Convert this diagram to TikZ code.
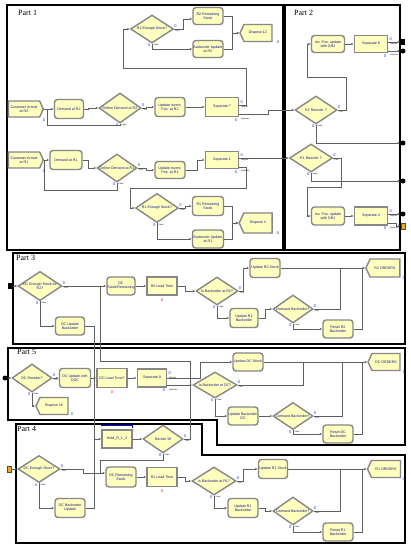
\documentclass[tikz,border=0pt]{standalone}
\usepackage{fontspec}
\setmainfont{Liberation Serif}
\newfontfamily\modf{Liberation Sans}
\usetikzlibrary{shapes.geometric,shapes.symbols,arrows.meta}
\definecolor{modfill}{RGB}{255,255,190}
\definecolor{modline}{RGB}{135,135,135}
\definecolor{modtext}{RGB}{20,20,140}
\definecolor{conline}{RGB}{95,95,95}
\definecolor{cntblue}{RGB}{40,40,230}
\definecolor{orng}{RGB}{240,170,30}
\newcommand\declbl[1]{%
 \node[cnt,anchor=south west] (#1ct) at ([yshift=1pt]#1.east) {0};
 \node[tl,anchor=north west] (#1tt) at ([xshift=1pt,yshift=-1pt]#1.east) {True};
 \node[cnt,anchor=east] (#1cf) at ([xshift=-1.5pt,yshift=-1.5pt]#1.south) {0};
 \node[tl,anchor=north west] (#1ff) at ([xshift=1.5pt,yshift=-0.5pt]#1.south) {False};}
\newcommand\seplbl[1]{%
 \node[cnt,anchor=south west] (#1co) at ([xshift=1pt,yshift=3pt]#1.east) {0};
 \node[tl,anchor=north west] (#1to) at ([xshift=1.5pt,yshift=1pt]#1.east) {Original};
 \node[cnt,anchor=north east] (#1cd) at ([xshift=-2pt,yshift=-1pt]#1.south east) {0};
 \node[tl,anchor=north west] (#1td) at ([xshift=1.5pt,yshift=-0.5pt]#1.south east) {Duplicate};}
\begin{document}
\begin{tikzpicture}[x=1pt,y=-1pt,
 mod/.style={draw=modline, line width=1.4pt, fill=modfill, text=modtext,
   font=\modf\fontsize{3.6}{4.1}\selectfont, align=center, inner sep=0.3pt},
 proc/.style={mod, rectangle, rounded corners=3pt, minimum width=30pt, minimum height=18pt},
 hold/.style={mod, rectangle, minimum width=30pt, minimum height=18pt},
 sepbox/.style={mod, rectangle, line width=1.7pt, minimum width=32pt, minimum height=18pt},
 dec/.style={mod, diamond, aspect=1.5, minimum width=42pt, minimum height=28pt, inner sep=0pt},
 create/.style={mod, signal, signal to=east, signal pointer angle=130, minimum width=35pt, minimum height=16pt},
 dispose/.style={mod, signal, signal to=west, signal pointer angle=130, minimum width=32pt, minimum height=17pt},
 con/.style={draw=conline, line width=0.85pt, -{Latex[length=2.4pt,width=2.2pt]}},
 conj/.style={draw=conline, line width=0.85pt},
 part/.style={draw=black, line width=1.3pt},
 ptitle/.style={font=\fontsize{8}{9}\selectfont, inner sep=0pt, anchor=west},
 cnt/.style={font=\modf\fontsize{4}{4}\selectfont, inner sep=0pt, text=cntblue},
 rcnt/.style={font=\modf\fontsize{4}{4}\selectfont, inner sep=0pt, text=red},
 tl/.style={font=\modf\fontsize{2}{2.2}\selectfont, inner sep=0pt, text=black},
 dotterm/.style={circle, fill=black, inner sep=0pt, minimum size=5pt},
 sqterm/.style={rectangle, fill=black, inner sep=0pt, minimum width=4.5pt, minimum height=6pt},
 oterm/.style={rectangle, fill=orng, draw=black!70, line width=0.4pt, inner sep=0pt, minimum width=4.5pt, minimum height=6pt}
]
\useasboundingbox (0,0) rectangle (411,550);
\fill[white] (0,0) rectangle (411,550);

% ---------------- part frames ----------------
\draw[part] (7,5) rectangle (283,250);
\draw[part] (285,5) rectangle (400,250);
\draw[part] (13,253) rectangle (405,344);
\draw[part] (8,348) -- (405,348) -- (405,445) -- (217,445) -- (217,420) -- (8,420) -- cycle;
\draw[part] (16,424) -- (202,424) -- (202,455) -- (405,455) -- (405,543) -- (16,543) -- cycle;
\node[ptitle] (p1) at (18,13) {Part 1};
\node[ptitle] (p2) at (294,13) {Part 2};
\node[ptitle] (p3) at (16,258) {Part 3};
\node[ptitle] (p5) at (17,352) {Part 5};
\node[ptitle] (p4) at (17,429) {Part 4};

% ---------------- Part 1 modules ----------------
\node[create] (car2) at (24,109) {Customer Arrival\\at R2};
\node[proc, minimum width=29pt, minimum height=19pt] (dr2) at (69,109) {Demand at R2};
\node[dec, minimum height=30pt] (ddr2) at (120,108) {Define Demand at R2};
\node[proc, minimum height=19pt] (uipr2) at (170,107) {Update Invent.\\Pos. at R2};
\node[sepbox, minimum width=33pt, minimum height=19pt] (s7) at (222,107) {Separate 7};
\node[dec, minimum width=43pt] (r2es) at (152,29) {R2 Enough Stock?};
\node[proc, minimum height=17pt] (r2rs) at (208,16) {R2 Remaining\\Stock};
\node[proc, minimum height=17pt] (bur2) at (208,49) {Backorder Update\\at R2};
\node[dispose] (d12) at (258,33) {Dispose 12};

\node[create] (car1) at (24,160) {Customer Arrival\\at R1};
\node[proc, minimum width=32pt, minimum height=19pt] (dr1) at (66,160) {Demand at R1};
\node[dec, minimum width=40pt, minimum height=28pt] (ddr1) at (117,168) {Define Demand at R1};
\node[proc, minimum height=17pt] (uipr1) at (170,170) {Update Invent.\\Pos. at R1};
\node[sepbox, minimum width=33pt, minimum height=17pt] (s1) at (222,160) {Separate 1};
\node[dec, minimum width=43pt, minimum height=29pt] (r1es) at (157,208) {R1 Enough Stock?};
\node[proc, minimum width=31pt, minimum height=19pt] (r1rs) at (208,206) {R1 Remaining\\Stock};
\node[proc, minimum width=31pt, minimum height=18pt] (bur1) at (208,239) {Backorder Update\\at R1};
\node[dispose, minimum width=33pt, minimum height=20pt] (d4) at (258,223) {Dispose 4};

% ---------------- Part 2 modules ----------------
\node[proc, minimum width=33pt, minimum height=17pt] (ipor2) at (328,44) {Inv. Pos. update\\with OR2};
\node[sepbox, minimum width=33pt, minimum height=17pt] (s8) at (371,44) {Separate 8};
\node[dec] (r2ro) at (316,110) {R2 Reorder ?};
\node[dec, minimum width=43pt] (r1ro) at (311,158) {R1 Reorder ?};
\node[proc, minimum width=33pt, minimum height=18pt] (ipor1) at (328,216) {Inv. Pos. update\\with OR1};
\node[sepbox, minimum width=33pt, minimum height=18pt] (s4) at (371,216) {Separate 4};
\node[sqterm] (bsq1) at (403,42) {};
\node[dotterm] (dt1) at (403,51) {};
\node[dotterm] (dt2) at (403,143) {};
\node[dotterm] (dt3) at (403,181) {};
\node[dotterm] (dt4) at (403,214) {};
\node[oterm] (osq2) at (403,226) {};

% ---------------- Part 3 modules ----------------
\node[sqterm, minimum width=5pt] (bsq3) at (10,286) {};
\node[dec] (dcr2) at (40,286) {DC Enough Stock for\\R2?};
\node[proc, minimum width=28pt] (dcsr) at (121,286) {DC\\Stock/Remaining};
\node[hold] (r2lt) at (162,286) {R2 Lead Time};
\node[dec, minimum width=42pt] (ibr2) at (217,291) {Is Backorder at R2?};
\node[proc, minimum height=19pt] (ur2s) at (265,268) {Update R2 Stock};
\node[proc, minimum width=28pt, minimum height=19pt] (ur2b) at (244,318) {Update R2\\Backorder};
\node[dec, minimum width=40pt] (dbr2) at (293,309) {Demand Backorder?};
\node[proc] (rr2b) at (338,329) {Reset R2\\Backorder};
\node[dispose, minimum width=34pt, minimum height=18pt] (r2ord) at (385,268) {R2 ORDERS};
\node[proc, minimum width=29pt] (dcub) at (70,326) {DC Update\\Backorder};

% ---------------- Part 5 modules ----------------
\node[dotterm] (dt5) at (5,378) {};
\node[dec, minimum width=40pt] (dcro) at (32,378) {DC Reorder?};
\node[proc, minimum width=31pt, minimum height=19pt] (dcuo) at (75,378) {DC Update with\\ODC};
\node[hold, minimum height=19pt] (dclt) at (112,378) {DC Lead Time?};
\node[sepbox, minimum width=29pt] (s9) at (152,378) {Separate 9};
\node[dispose] (d16) at (54,406) {Dispose 16};
\node[proc] (udcs) at (248,362) {Update DC Stock};
\node[dec, minimum width=44pt, minimum height=26pt] (ibdc) at (215,385) {Is Backorder at DC?};
\node[proc] (ubdc) at (243,416) {Update Backorder\\DC};
\node[dec, minimum width=40pt, minimum height=27pt] (dbdc) at (293,416) {Demand Backorder?};
\node[proc] (rdcb) at (338,434) {Reset DC\\Backorder};
\node[dispose] (dcord) at (386,362) {DC ORDERS};

% ---------------- Part 4 modules ----------------
\node[oterm] (osq4) at (9,469) {};
\node[dec, minimum height=27pt] (dces) at (39,469) {DC Enough Stock?};
\node[hold] (hold) at (117,439) {Hold\_R\_1\_2};
\node[dec, minimum width=40pt] (d30) at (163,439) {Decide 30};
\node[proc, minimum height=20pt] (dcrs) at (121,477) {DC Remaining\\Stock};
\node[hold, minimum height=19pt] (r1lt) at (162,477) {R1 Lead Time};
\node[proc, minimum height=19pt] (dcbu) at (70,508) {DC Backorder\\Update};
\node[dec, minimum width=44pt] (ibr1) at (214,481) {Is Backorder at R1?};
\node[proc, minimum width=29pt, minimum height=19pt] (ur1s) at (273,469) {Update R1 Stock};
\node[proc, minimum height=19pt] (ur1b) at (243,508) {Update R1\\Backorder};
\node[dec, minimum width=40pt] (dbr1) at (293,511) {Demand Backorder?};
\node[proc] (rr1b) at (338,532) {Reset R1\\Backorder};
\node[dispose, minimum width=33pt] (r1ord) at (386,469) {R1 ORDERS};
\draw[blue, line width=0.9pt] ([yshift=3.5pt]hold.north west) -- ([yshift=3.5pt]hold.north east) -- ([yshift=1pt]hold.north east);

% ---------------- connectors Part 1 ----------------
\draw[con] (car2.east) -- (dr2.west);
\draw[con] (dr2.east) -- (88,109) |- (ddr2.west);
\draw[conj] (ddr2.south) -- (120,125) -- (47,125) -- (47,109);
\draw[con] (ddr2.east) -- (146,108) |- (uipr2.west);
\draw[con] (uipr2.east) -- (s7.west);
\draw[con] ([yshift=2pt]s7.east) -- (246,105) -- (246,68) -- (123,68) |- (r2es.west);
\draw[con] ([yshift=-7pt]s7.east) -- (268,114) -- (268,110) -- (r2ro.west);
\draw[con] (r2es.east) -- (183,29) |- ([yshift=-3pt]r2rs.west);
\draw[con] (r2es.south) |- (bur2.west);
\draw[con] (r2rs.east) -- (232,16) |- (d12.west);
\draw[con] (bur2.east) -- (232,49) |- (d12.west);

\draw[con] (car1.east) -- (dr1.west);
\draw[con] (dr1.east) -- (88,160) |- (ddr1.west);
\draw[conj] (ddr1.south) -- (117,190) -- (44,190) -- (44,160);
\draw[con] (ddr1.east) -- (146,168) |- (uipr1.west);
\draw[con] (uipr1.east) -- (197,170) |- (s1.west);
\draw[con] ([yshift=2pt]s1.east) -- (r1ro.west);
\draw[con] ([yshift=-7pt]s1.east) -- (246,167) -- (246,188) -- (130,188) |- (r1es.west);
\draw[con] (r1es.east) -- (185,208) |- (r1rs.west);
\draw[con] (r1es.south) |- (bur1.west);
\draw[con] (r1rs.east) -- (232,206) |- (d4.west);
\draw[con] (bur1.east) -- (232,239) |- (d4.west);

% ---------------- connectors Part 2 ----------------
\draw[con] (r2ro.east) -- (346,110) -- (346,77) -- (307,77) |- (ipor2.west);
\draw[con] (ipor2.east) -- (s8.west);
\draw[con] ([yshift=2pt]s8.east) -- (bsq1.west);
\draw[con] ([yshift=-7pt]s8.east) -- (dt1.west);
\draw[con] (r2ro.south) |- (dt2.west);
\draw[con] (r1ro.east) -- (341,158) -- (341,187) -- (307,187) |- (ipor1.west);
\draw[con] (r1ro.south) |- (dt3.west);
\draw[con] (ipor1.east) -- (s4.west);
\draw[con] ([yshift=2pt]s4.east) -- (dt4.west);
\draw[con] ([yshift=-7pt]s4.east) -- (396,223) |- (osq2.west);

% ---------------- connectors Part 3 ----------------
\draw[con] (bsq3.east) -- (dcr2.west);
\draw[con] (dcr2.east) -- (dcsr.west);
\draw[con] (dcr2.south) |- (dcub.west);
\draw[con] (dcsr.east) -- (r2lt.west);
\draw[con] (r2lt.east) -- (185,286) |- (ibr2.west);
\draw[con] (ibr2.east) -- (243,291) |- (ur2s.west);
\draw[con] (ibr2.south) |- (ur2b.west);
\draw[con] (ur2b.east) -- (265,318) |- (dbr2.west);
\draw[con] (ur2s.east) -- (r2ord.west);
\draw[conj] (dbr2.east) -- (340,309) -- (340,268);
\draw[con] (dbr2.south) |- (rr2b.west);
\draw[conj] (rr2b.east) -- (362,329) -- (362,268);
\draw[con] (dcub.east) -- (94,326) -- (94,439) -- (hold.west);

% ---------------- connectors Part 5 ----------------
\draw[con] (dt5.east) -- (dcro.west);
\draw[con] (dcro.east) -- (dcuo.west);
\draw[con] (dcro.south) |- (d16.west);
\draw[con] (dcuo.east) -- (dclt.west);
\draw[con] (dclt.east) -- (s9.west);
\draw[con] (s9.east) -- (200,378) -- (200,362) -- (udcs.west);
\draw[con] ([yshift=-7pt]s9.east) -- (ibdc.west);
\draw[conj] (ibdc.east) -- (303,385) -- (303,362);
\draw[con] (ibdc.south) |- (ubdc.west);
\draw[con] (udcs.east) -- (dcord.west);
\draw[con] (ubdc.east) -- (dbdc.west);
\draw[conj] (dbdc.east) -- (342,416) -- (342,362);
\draw[con] (dbdc.south) |- (rdcb.west);
\draw[conj] (rdcb.east) -- (362,434) -- (362,362);

% ---------------- connectors Part 4 ----------------
\draw[con] (osq4.east) -- (dces.west);
\draw[con] (dces.east) -- (83,469) -- (83,473) -- ([yshift=4pt]dcrs.west);
\draw[con] (dces.south) |- (dcbu.west);
\draw[conj] (dcbu.east) -- (94,508) -- (94,439);
\draw[con] (hold.east) -- (d30.west);
\draw[conj] (d30.east) -- (190,439) -- (190,361) -- (100,361) -- (100,286);
\draw[conj] (d30.south) -- (163,460) -- (100,460) -- (100,473);
\draw[con] (dcrs.east) -- (r1lt.west);
\draw[con] (r1lt.east) -- (185,477) |- (ibr1.west);
\draw[con] (ibr1.east) -- (243,481) |- (ur1s.west);
\draw[con] (ibr1.south) |- (ur1b.west);
\draw[con] (ur1b.east) -- (265,508) |- (dbr1.west);
\draw[con] (ur1s.east) -- (r1ord.west);
\draw[conj] (dbr1.east) -- (340,511) -- (340,469);
\draw[con] (dbr1.south) |- (rr1b.west);
\draw[conj] (rr1b.east) -- (362,532) -- (362,469);

% ---------------- counters and exit labels ----------------
\declbl{ddr2}\declbl{ddr1}\declbl{r2es}\declbl{r1es}
\declbl{r2ro}\declbl{r1ro}
\declbl{dcr2}\declbl{ibr2}\declbl{dbr2}
\declbl{dcro}\declbl{ibdc}\declbl{dbdc}
\declbl{dces}\declbl{d30}\declbl{ibr1}\declbl{dbr1}
\seplbl{s7}\seplbl{s1}\seplbl{s8}\seplbl{s4}\seplbl{s9}
\node[cnt] (car2c) at (44,120) {0};
\node[cnt] (car1c) at (44,171) {0};
\node[cnt] (d12c) at (278,42) {0};
\node[cnt] (d4c) at (278,233) {0};
\node[cnt] (d16c) at (72,414) {0};
\node[cnt] (r2oc) at (404,278) {0};
\node[cnt] (dcoc) at (404,372) {0};
\node[cnt] (r1oc) at (404,479) {0};
\node[rcnt] (r2ltc) at (162,300) {0};
\node[rcnt] (dcltc) at (112,392) {0};
\node[rcnt] (r1ltc) at (162,491) {0};
\end{tikzpicture}
\end{document}
